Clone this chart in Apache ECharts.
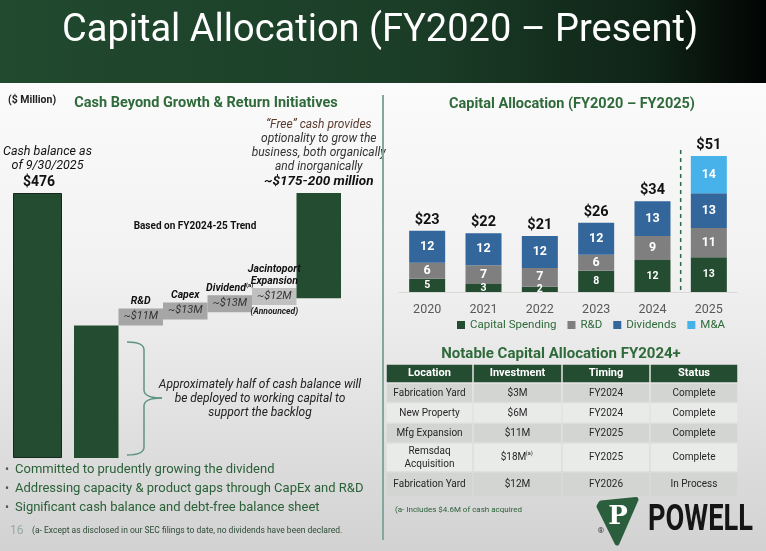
<!DOCTYPE html>
<html><head><meta charset="utf-8">
<script src="https://cdn.jsdelivr.net/npm/echarts@6/dist/echarts.min.js"></script>
<style>html,body{margin:0;padding:0;background:#fff}#c{width:766px;height:551px}</style>
</head><body><div id="c"></div>
<script>
// ---------------- data ----------------
const waterfallCategories = ['Cash balance', 'Working capital', 'R&D', 'Capex', 'Dividend', 'Jacintoport Expansion', 'Free cash'];
const waterfallValues = [476, 238, 11, 13, 13, 12, 189];
const waterfallValueLabels = ['$476', '', '~$11M', '~$13M', '~$13M', '~$12M', '~$175-200 million'];

const years = ['2020', '2021', '2022', '2023', '2024', '2025'];
const capitalSpending = [5, 3, 2, 8, 12, 13];
const rndSpending = [6, 7, 7, 6, 9, 11];
const dividends = [12, 12, 12, 12, 13, 13];
const acquisitions = [null, null, null, null, null, 14];
const seriesNames = ['Capital Spending', 'R&D', 'Dividends', 'M&A'];

const tableHeader = ['Location', 'Investment', 'Timing', 'Status'];
const tableLocation = ['Fabrication Yard', 'New Property', 'Mfg Expansion', 'Remsdaq\nAcquisition', 'Fabrication Yard'];
const tableInvestment = ['$3M', '$6M', '$11M', '$18M', '$12M'];
const tableTiming = ['FY2024', 'FY2024', 'FY2025', 'FY2025', 'FY2026'];
const tableStatus = ['Complete', 'Complete', 'Complete', 'Complete', 'In Process'];

const bullets = [
  'Committed to prudently growing the dividend',
  'Addressing capacity & product gaps through CapEx and R&D',
  'Significant cash balance and debt-free balance sheet'
];

// ---------------- styling ----------------
const FONT = 'Roboto, "Noto Sans", sans-serif';
const DARK_GREEN = '#244c31';
const TITLE_GREEN = '#2f6a3a';
const GRAY_STEP = '#a6a6a6';
const colors = [DARK_GREEN, '#7f7f7f', '#33669a', '#47b1ea'];

function measure(text, font) {
  const ctx = document.createElement('canvas').getContext('2d');
  ctx.font = font;
  return ctx.measureText(text).width;
}

const chart = echarts.init(document.getElementById('c'), null, {renderer: 'canvas', width: 766, height: 551});

// waterfall bases (cumulative)
const wfBase = [];
let running = 0;
for (let i = 1; i < waterfallValues.length; i++) {
  if (i === waterfallValues.length - 1) { wfBase.push(waterfallValues[0] - waterfallValues[i]); }
  else if (i === 1) { wfBase.push(0); running = waterfallValues[1]; }
  else { wfBase.push(running); running += waterfallValues[i]; }
}

const stepRich = {
  n: {fontFamily: FONT, fontSize: 10.5, fontWeight: 'bold', fontStyle: 'italic', color: '#111', lineHeight: 12},
  sup: {fontFamily: FONT, fontSize: 6, fontWeight: 'bold', color: '#111', lineHeight: 12, verticalAlign: 'top'},
  v: {fontFamily: FONT, fontSize: 11, fontStyle: 'italic', color: '#333', lineHeight: 18},
  f: {fontFamily: FONT, fontSize: 12, fontStyle: 'italic', color: '#333', lineHeight: 14},
  fq: {fontFamily: FONT, fontSize: 12, fontStyle: 'italic', color: '#5a3b2e', lineHeight: 14},
  fb: {fontFamily: FONT, fontSize: 13.5, fontStyle: 'italic', fontWeight: 'bold', color: '#111', lineHeight: 16}
};

const stepFormat = [
  null,
  null,
  '{n|R&D}\n{v|' + waterfallValueLabels[2] + '}',
  '{n|Capex}\n{v|' + waterfallValueLabels[3] + '}',
  '{n|Dividend}{sup|(a)}\n{v|' + waterfallValueLabels[4] + '}',
  '{n|Jacintoport}\n{n|Expansion}\n{v|' + waterfallValueLabels[5] + '}',
  '{fq|\u201CFree\u201D cash provides}\n{f|optionality to grow the}\n{f|business, both organically}\n{f|and inorganically}\n{fb|' + waterfallValueLabels[6] + '}'
];

const stepData = [];
for (let i = 1; i < waterfallValues.length; i++) {
  const isStep = i >= 2 && i <= 5;
  const item = {
    value: waterfallValues[i],
    itemStyle: {color: isStep ? (i === 5 ? '#c0c0c0' : GRAY_STEP) : DARK_GREEN}
  };
  if (isStep) {
    item.label = {show: true, position: 'insideBottom', distance: 0, formatter: stepFormat[i], rich: stepRich};
  } else if (i === waterfallValues.length - 1) {
    item.label = {show: true, position: 'top', distance: 3, formatter: stepFormat[i], rich: stepRich};
  }
  stepData.push(item);
}
const baseData = wfBase.map((b, k) => {
  const item = {value: b};
  if (k === 4) {
    item.label = {show: true, position: 'insideTop', distance: 2, formatter: '(Announced)',
      fontFamily: FONT, fontSize: 8.5, fontWeight: 'bold', fontStyle: 'italic', color: '#222'};
  }
  return item;
});

const totals = years.map((y, i) => [capitalSpending, rndSpending, dividends, acquisitions]
  .reduce((s, arr) => s + (arr[i] || 0), 0));

const segLabel = (size) => ({
  show: true, position: 'inside', color: '#fff', fontFamily: FONT, fontWeight: 'bold', fontSize: size,
  formatter: p => (p.value == null ? '' : p.value)
});

const option = {
  animation: false,
  grid: [
    {left: 13, width: 49, top: 193, height: 265},
    {left: 74, width: 267, top: 193, height: 265},
    {left: 399, right: 29, top: 132, bottom: 259}
  ],
  xAxis: [
    {type: 'category', gridIndex: 0, data: [waterfallCategories[0]], show: false},
    {type: 'category', gridIndex: 1, data: waterfallCategories.slice(1), show: false},
    {type: 'category', gridIndex: 2, data: years,
      axisLine: {lineStyle: {color: '#d9d9d9', width: 1}}, axisTick: {show: false},
      axisLabel: {color: '#595959', fontFamily: FONT, fontSize: 12.5, margin: 11}}
  ],
  yAxis: [
    {type: 'value', gridIndex: 0, min: 0, max: 476, show: false},
    {type: 'value', gridIndex: 1, min: 0, max: 476, show: false},
    {type: 'value', gridIndex: 2, min: 0, max: 60, show: false}
  ],
  legend: {
    data: seriesNames, left: 452, top: 314, itemWidth: 8, itemHeight: 8, itemGap: 11, icon: 'rect',
    textStyle: {color: TITLE_GREEN, fontFamily: FONT, fontSize: 11.5}
  },
  series: [
    {type: 'bar', name: 'cash', xAxisIndex: 0, yAxisIndex: 0, barCategoryGap: '0%', silent: true,
      data: [{value: waterfallValues[0]}],
      itemStyle: {color: DARK_GREEN, borderColor: '#15281b', borderWidth: 1},
      label: {show: true, position: 'top', distance: 2, offset: [10, 0], rich: {
        a: {fontFamily: FONT, fontSize: 12.5, fontStyle: 'italic', color: '#111', lineHeight: 14},
        b: {fontFamily: FONT, fontSize: 14, fontWeight: 'bold', color: '#111', lineHeight: 18, padding: [0, 17, 0, 0]}},
        formatter: '{a|Cash balance as}\n{a|of 9/30/2025}\n{b|' + waterfallValueLabels[0] + '}'}},
    {type: 'bar', name: 'base', xAxisIndex: 1, yAxisIndex: 1, stack: 'wf', barCategoryGap: '0%', silent: true,
      itemStyle: {color: 'rgba(0,0,0,0)'}, data: baseData},
    {type: 'bar', name: 'steps', xAxisIndex: 1, yAxisIndex: 1, stack: 'wf', barCategoryGap: '0%', silent: true,
      barMinHeight: 17, data: stepData},
    {type: 'bar', name: seriesNames[0], xAxisIndex: 2, yAxisIndex: 2, stack: 'ca', barWidth: 36,
      itemStyle: {color: colors[0]}, data: capitalSpending, label: segLabel(10.5)},
    {type: 'bar', name: seriesNames[1], xAxisIndex: 2, yAxisIndex: 2, stack: 'ca', barWidth: 36,
      itemStyle: {color: colors[1]}, data: rndSpending, label: segLabel(12.5)},
    {type: 'bar', name: seriesNames[2], xAxisIndex: 2, yAxisIndex: 2, stack: 'ca', barWidth: 36,
      itemStyle: {color: colors[2]}, data: dividends, label: segLabel(12.5)},
    {type: 'bar', name: seriesNames[3], xAxisIndex: 2, yAxisIndex: 2, stack: 'ca', barWidth: 36,
      itemStyle: {color: colors[3]}, data: acquisitions, label: segLabel(12.5)},
    {type: 'bar', name: 'total', xAxisIndex: 2, yAxisIndex: 2, stack: 'ca', barWidth: 36, silent: true,
      itemStyle: {color: 'rgba(0,0,0,0)'}, data: totals.map(() => 0),
      label: {show: true, position: 'top', distance: 3, color: '#111', fontFamily: FONT, fontWeight: 'bold', fontSize: 14.5,
        formatter: p => '$' + totals[p.dataIndex]}}
  ]
};
chart.setOption(option);

// ---------------- graphics ----------------
const g = [];
const txt = (text, x, y, opts) => {
  const o = Object.assign({fontFamily: FONT, fontSize: 12, fill: '#222', align: 'left', verticalAlign: 'middle'}, opts || {});
  o.text = text; o.x = 0; o.y = 0;
  o.textAlign = o.align; o.textVerticalAlign = o.verticalAlign;
  const el = {type: 'text', x: x, y: y, z: 100, style: o};
  if (o.scaleX) { el.scaleX = o.scaleX; delete o.scaleX; }
  return el;
};
const lin = (x1, y1, x2, y2, style) => ({type: 'line', z: 100, silent: true, shape: {x1, y1, x2, y2}, style});
const quad = (x1, y1, cx, cy, x2, y2, style) => ({type: 'bezierCurve', z: 100, silent: true,
  shape: {x1, y1, x2, y2, cpx1: cx, cpy1: cy}, style});

g.push({type: 'rect', z: -100, silent: true, shape: {x: 0, y: 0, width: 766, height: 551},
  style: {fill: {type: 'linear', x: 0, y: 0, x2: 0, y2: 1, colorStops: [
    {offset: 0, color: '#ffffff'}, {offset: 0.5, color: '#f1f1f1'}, {offset: 1, color: '#d2d2d2'}]}}});
g.push({type: 'rect', z: -99, silent: true, shape: {x: 0, y: 0, width: 766, height: 83},
  style: {fill: {type: 'linear', x: 0, y: 0, x2: 1, y2: 0, colorStops: [
    {offset: 0, color: '#214a2f'}, {offset: 0.55, color: '#1b3d27'}, {offset: 0.85, color: '#0f2417'}, {offset: 1, color: '#020403'}]}}});

// main title
const titleText = 'Capital Allocation (FY2020 \u2013 Present)';
const tw = measure(titleText, '38px Roboto');
g.push(txt(titleText, 62, 31, {fontSize: 38, fill: '#ffffff', scaleX: Math.min(1, 641 / tw)}));

// left panel headers
g.push(txt('($ Million)', 8, 100, {fontSize: 10.5, fontWeight: 'bold', fill: '#222'}));
g.push(txt('Cash Beyond Growth & Return Initiatives', 206, 103, {fontSize: 14.5, fontWeight: 'bold', fill: TITLE_GREEN, align: 'center'}));
g.push(txt('Based on FY2024-25 Trend', 195, 226, {fontSize: 10, fontWeight: 'bold', fill: '#111', align: 'center'}));

// brace
const braceStyle = {stroke: '#5f9580', lineWidth: 1.5, fill: null};
g.push(quad(127, 342, 144, 342, 144, 350, braceStyle));
g.push(lin(144, 350, 144, 390, braceStyle));
g.push(quad(144, 390, 144, 398, 162, 398, braceStyle));
g.push(quad(162, 398, 144, 398, 144, 406, braceStyle));
g.push(lin(144, 406, 144, 447, braceStyle));
g.push(quad(144, 447, 144, 455, 127, 455, braceStyle));
g.push(txt('Approximately half of cash balance will\nbe deployed to working capital to\nsupport the backlog', 260, 399,
  {fontSize: 12, fontStyle: 'italic', fill: '#222', align: 'center', lineHeight: 14}));

// bullets
bullets.forEach((b, i) => {
  const y = 470 + i * 19;
  g.push(txt('\u2022', 5, y, {fontSize: 12, fill: '#555'}));
  g.push(txt(b, 15, y, {fontSize: 13, fill: '#2b6138'}));
});
g.push(txt('16', 10, 531, {fontSize: 12, fill: '#93aaa3'}));
g.push(txt('(a- Except as disclosed in our SEC filings to date, no dividends have been declared.', 32, 531,
  {fontSize: 8.5, fill: '#2b4a35'}));

// divider
g.push(lin(383, 95, 383, 540, {stroke: '#7fa99a', lineWidth: 2}));

// right chart title
g.push(txt('Capital Allocation (FY2020 \u2013 FY2025)', 572, 104, {fontSize: 14.5, fontWeight: 'bold', fill: TITLE_GREEN, align: 'center'}));

// dashed separator between 2024 and 2025
const x24 = chart.convertToPixel({xAxisIndex: 2}, years[4]);
const x25 = chart.convertToPixel({xAxisIndex: 2}, years[5]);
const xm = (x24 + x25) / 2;
g.push(lin(xm, 150, xm, 291, {stroke: '#2b6a45', lineWidth: 1.5, lineDash: [4, 4]}));

// table
g.push(txt('Notable Capital Allocation FY2024+', 561, 354, {fontSize: 15, fontWeight: 'bold', fill: TITLE_GREEN, align: 'center'}));
const colX = [386, 473, 562, 650, 738];
const rowY = [364, 383, 403, 423, 443, 472, 497];
const cols = [tableLocation, tableInvestment, tableTiming, tableStatus];
for (let r = 0; r < rowY.length - 1; r++) {
  for (let c = 0; c < 4; c++) {
    const x0 = colX[c], x1 = colX[c + 1], y0 = rowY[r], y1 = rowY[r + 1];
    const fill = r === 0 ? DARK_GREEN : (r % 2 === 1 ? '#d2d5d2' : '#e9ebe9');
    g.push({type: 'rect', z: 90, silent: true, shape: {x: x0 + 0.75, y: y0 + 0.75, width: x1 - x0 - 1.5, height: y1 - y0 - 1.5},
      style: {fill: fill}});
    const cx = (x0 + x1) / 2, cy = (y0 + y1) / 2;
    if (r === 0) {
      g.push(txt(tableHeader[c], cx, cy, {fontSize: 11, fontWeight: 'bold', fill: '#fff', align: 'center'}));
    } else {
      const v = cols[c][r - 1];
      if (c === 1 && r === 4) {
        g.push(txt(v, cx - 4, cy, {fontSize: 10, fill: '#262626', align: 'center'}));
        g.push(txt('(a)', cx + 8, cy - 4, {fontSize: 6, fill: '#262626'}));
      } else {
        g.push(txt(v, cx, cy, {fontSize: 10, fill: '#262626', align: 'center', lineHeight: 13}));
      }
    }
  }
}
g.push(txt('(a- Includes $4.6M of cash acquired', 395, 510, {fontSize: 8, fill: '#2b6138'}));

// logo
g.push({type: 'polygon', z: 100, silent: true,
  shape: {points: [[601, 503], [636, 499.5], [617, 543], [599, 506.5]]},
  style: {fill: '#2b5e3d', stroke: '#2b5e3d', lineWidth: 5, lineJoin: 'round'}});
g.push(txt('P', 618, 517, {fontSize: 26, fontWeight: 'bold', fontFamily: '"DejaVu Serif"', fill: '#fff', align: 'center'}));
g.push(txt('\u00AE', 601, 531, {fontSize: 8, fill: '#333', align: 'center'}));
const powellW = measure('POWELL', 'bold 37px Roboto');
g.push(txt('POWELL', 648, 521, {fontSize: 37, fontWeight: 'bold', fill: '#151515', scaleX: Math.min(1, 105 / powellW)}));

chart.setOption({graphic: {elements: g}});
</script>
</body></html>
